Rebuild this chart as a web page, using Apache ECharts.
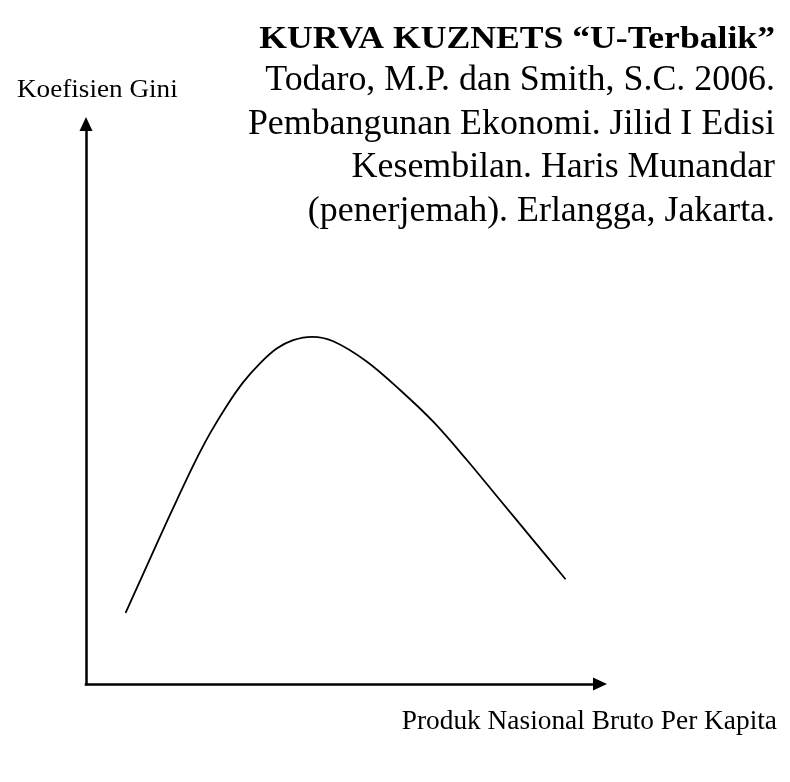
<!DOCTYPE html>
<html>
<head>
<meta charset="utf-8">
<script src="https://cdn.jsdelivr.net/npm/echarts@6/dist/echarts.min.js"></script>
<style>
html,body{margin:0;padding:0;background:#fff;}
#chart{width:790px;height:782px;}
</style>
</head>
<body>
<div id="chart"></div>
<script>
// Kuznets curve (arbitrary units, axes 0..100)
var gnpPerCapita = [7.7, 11.2, 14.4, 17.7, 20.9, 24.1, 27.4, 30.6, 33.9, 37.1, 40.3, 44.0, 48.1, 54.6, 61.1, 67.6, 74.1, 80.5, 87.0, 93.3];
var giniIndex    = [12.7, 19.8, 26.3, 32.9, 39.1, 44.7, 49.7, 53.9, 57.3, 59.9, 61.4, 62.0, 61.2, 57.6, 52.5, 46.8, 40.0, 32.9, 25.7, 18.7];

var titleText = 'KURVA KUZNETS \u201cU-Terbalik\u201d';
var sourceLines = [
  'Todaro, M.P. dan Smith, S.C. 2006.',
  'Pembangunan Ekonomi. Jilid I Edisi',
  'Kesembilan. Haris Munandar',
  '(penerjemah). Erlangga, Jakarta.'
];
var xAxisName = 'Produk Nasional Bruto Per Kapita';
var yAxisName = 'Koefisien Gini';

var serif = '"Liberation Serif", "Times New Roman", serif';

var points = gnpPerCapita.map(function (x, i) { return [x, giniIndex[i]]; });

var axisCommon = {
  type: 'value',
  min: 0,
  max: 100,
  axisLine: {
    show: true,
    onZero: false,
    symbol: ['none', 'triangle'],
    symbolSize: [13, 14],
    lineStyle: { color: '#000', width: 2.5, cap: 'square' }
  },
  axisTick: { show: false },
  axisLabel: { show: false },
  splitLine: { show: false }
};

var graphics = [];
graphics.push({
  type: 'text', x: 775, y: 39.5, scaleX: 1.15, silent: true,
  style: { text: titleText, fontFamily: serif, fontSize: 31, fontWeight: 'bold', fill: '#000', align: 'right', verticalAlign: 'middle' }
});
sourceLines.forEach(function (line, i) {
  graphics.push({
    type: 'text', x: 775, y: 81 + i * 43.5, scaleX: 1.025, silent: true,
    style: { text: line, fontFamily: serif, fontSize: 35, fill: '#000', align: 'right', verticalAlign: 'middle' }
  });
});
graphics.push({
  type: 'text', x: 17, y: 90, scaleX: 1.045, silent: true,
  style: { text: yAxisName, fontFamily: serif, fontSize: 26, fill: '#000', align: 'left', verticalAlign: 'middle' }
});
graphics.push({
  type: 'text', x: 777, y: 722, scaleX: 1.013, silent: true,
  style: { text: xAxisName, fontFamily: serif, fontSize: 27, fill: '#000', align: 'right', verticalAlign: 'middle' }
});

var chart = echarts.init(document.getElementById('chart'), null, { renderer: 'canvas' });
chart.setOption({
  backgroundColor: '#fff',
  animation: false,
  grid: { left: 86, right: 190, top: 124, bottom: 98, containLabel: false, outerBoundsMode: 'none' },
  xAxis: axisCommon,
  yAxis: axisCommon,
  series: [{
    type: 'line',
    data: points,
    smooth: 0.35,
    showSymbol: false,
    symbol: 'none',
    lineStyle: { color: '#000', width: 1.8 }
  }],
  graphic: graphics
});
</script>
</body>
</html>
